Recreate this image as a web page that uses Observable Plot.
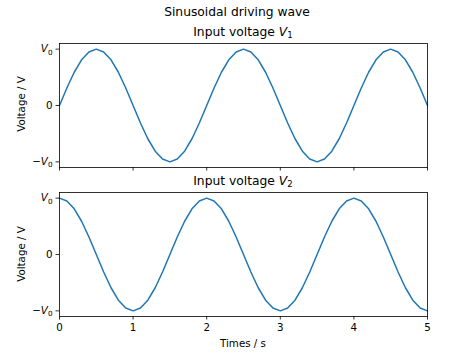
<!DOCTYPE html>
<html>
<head>
<meta charset="utf-8">
<script src="https://cdn.jsdelivr.net/npm/d3@7"></script>
<script src="https://cdn.jsdelivr.net/npm/@observablehq/plot@0.6"></script>
<style>
  html, body { margin: 0; padding: 0; background: #fff; }
  #wrap { position: relative; width: 474px; height: 355px; font-family: "DejaVu Sans", sans-serif; color: #000; overflow: hidden; }
  #wrap svg { position: absolute; left: 0; }
  .t { position: absolute; white-space: nowrap; line-height: 1; transform: translateX(-50%); }
  .yl { position: absolute; white-space: nowrap; line-height: 1; font-size: 10.3px; transform: translate(-50%, -50%) rotate(-90deg); }
  sub { font-size: 0.7em; vertical-align: -0.25em; line-height: 0; }
</style>
</head>
<body>
<div id="wrap"></div>
<script>
// ---- data ----
const t = [0,0.1,0.2,0.3,0.4,0.5,0.6,0.7,0.8,0.9,1,1.1,1.2,1.3,1.4,1.5,1.6,1.7,1.8,1.9,
  2,2.1,2.2,2.3,2.4,2.5,2.6,2.7,2.8,2.9,3,3.1,3.2,3.3,3.4,3.5,3.6,3.7,3.8,3.9,
  4,4.1,4.2,4.3,4.4,4.5,4.6,4.7,4.8,4.9,5];
const v1 = [0,0.31,0.59,0.81,0.95,1,0.95,0.81,0.59,0.31,0,-0.31,-0.59,-0.81,-0.95,-1,-0.95,-0.81,-0.59,-0.31,
  0,0.31,0.59,0.81,0.95,1,0.95,0.81,0.59,0.31,0,-0.31,-0.59,-0.81,-0.95,-1,-0.95,-0.81,-0.59,-0.31,
  0,0.31,0.59,0.81,0.95,1,0.95,0.81,0.59,0.31,0];
const v2 = [1,0.95,0.81,0.59,0.31,0,-0.31,-0.59,-0.81,-0.95,-1,-0.95,-0.81,-0.59,-0.31,0,0.31,0.59,0.81,0.95,
  1,0.95,0.81,0.59,0.31,0,-0.31,-0.59,-0.81,-0.95,-1,-0.95,-0.81,-0.59,-0.31,0,0.31,0.59,0.81,0.95,
  1,0.95,0.81,0.59,0.31,0,-0.31,-0.59,-0.81,-0.95,-1];
const xTicks = [0,1,2,3,4,5];
const yTicks = [-1,0,1];
const yTickLabels = ["−V0","0","V0"];
const suptitle = "Sinusoidal driving wave";
const titles = ["Input voltage <i>V</i><sub>1</sub>","Input voltage <i>V</i><sub>2</sub>"];
const yLabel = "Voltage / V";
const xLabel = "Times / s";

const wrap = document.getElementById("wrap");
const blue = "#1f77b4";

function panel(vals, showXLabels, height, marginTop, marginBottom) {
  const data = t.map((x, i) => ({x, y: vals[i]}));
  const svg = Plot.plot({
    width: 474, height,
    marginTop, marginBottom, marginLeft: 59, marginRight: 47,
    style: {fontFamily: "DejaVu Sans, sans-serif", fontSize: "10.3px", color: "#000", background: "transparent"},
    x: {domain: [0, 5]},
    y: {domain: [-1.1, 1.1]},
    marks: [
      Plot.line(data, {x: "x", y: "y", stroke: blue, strokeWidth: 1.5}),
      Plot.axisX(xTicks, {anchor: "bottom", tickSize: 3.5, tickPadding: 3.5, label: null,
        tickFormat: showXLabels ? (d => String(d)) : (() => ""), stroke: "#000", strokeWidth: 0.8}),
      Plot.axisY(yTicks, {anchor: "left", tickSize: 3.5, tickPadding: 3.5, label: null,
        tickFormat: d => yTickLabels[yTicks.indexOf(d)], stroke: "#000", strokeWidth: 0.8}),
      Plot.frame({stroke: "#000", strokeWidth: 0.8})
    ]
  });
  // italic V with subscript 0
  d3.select(svg).selectAll('g[aria-label="y-axis tick label"] text').each(function() {
    const s = this.textContent;
    if (s.includes("V")) {
      const neg = s.startsWith("−");
      this.textContent = "";
      const el = d3.select(this);
      if (neg) el.append("tspan").text("−");
      el.append("tspan").attr("font-style", "italic").text("V");
      el.append("tspan").attr("font-size", "0.7em").attr("dy", "0.3em").text("0");
    }
  });
  return svg;
}

const p1 = panel(v1, false, 180, 43, 13);
p1.style.top = "0px";
const p2 = panel(v2, true, 175, 12, 39);
p2.style.top = "180px";
wrap.appendChild(p1);
wrap.appendChild(p2);

function addText(html, cls, left, top, size) {
  const d = document.createElement("div");
  d.className = cls;
  d.innerHTML = html;
  d.style.left = left + "px";
  d.style.top = top + "px";
  if (size) d.style.fontSize = size + "px";
  wrap.appendChild(d);
  return d;
}
addText(suptitle, "t", 237, 5.5, 12.3);
addText(titles[0], "t", 243, 25.5, 12.3);
addText(titles[1], "t", 243, 174.5, 12.3);
addText(xLabel, "t", 243, 338, 10.3);
addText(yLabel, "yl", 21, 104);
addText(yLabel, "yl", 21, 254);
</script>
</body>
</html>
